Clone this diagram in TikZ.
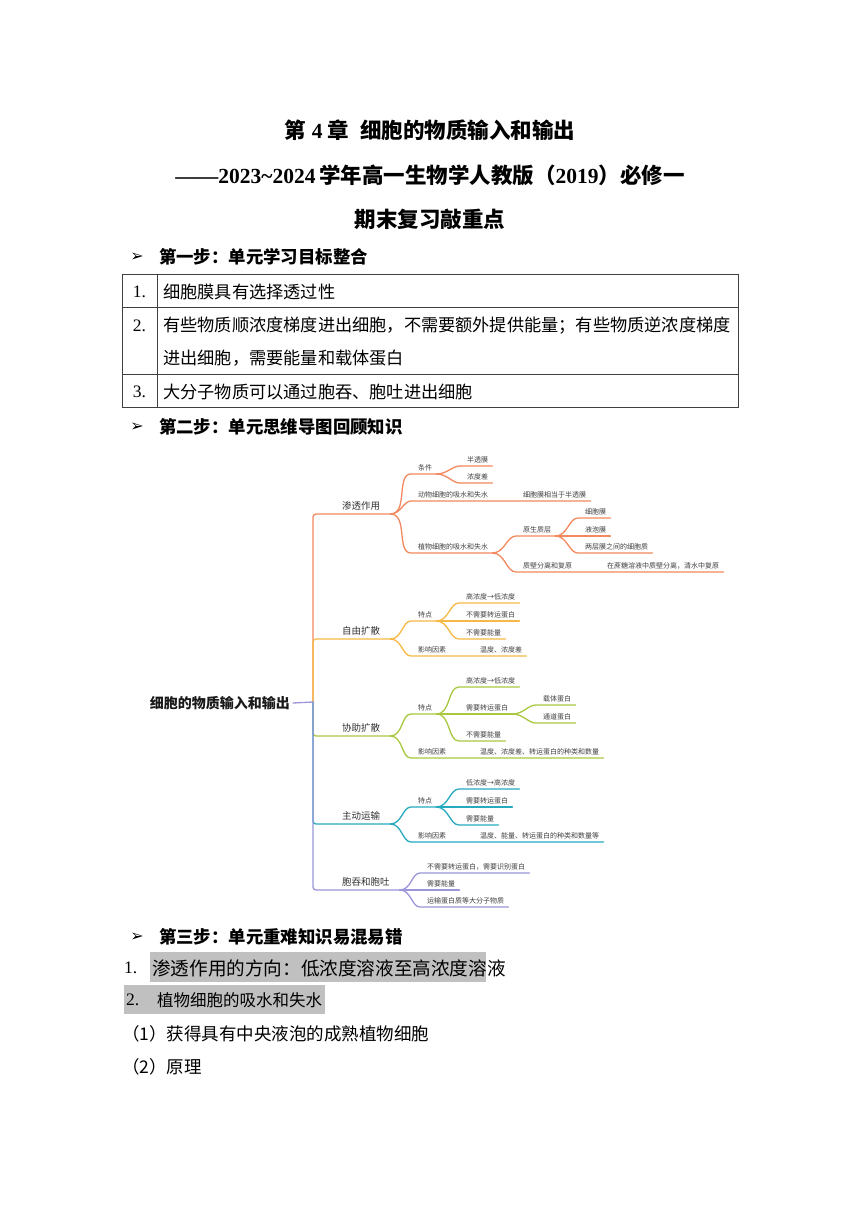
\documentclass[tikz,border=0pt]{standalone}
\usepackage{fontspec}
\setmainfont{Noto Sans CJK SC}
\newfontfamily\tnr{Liberation Serif}
\newfontfamily\symfont{DejaVu Sans}
\usepackage{xcolor}
\usepackage{tikz}
\usetikzlibrary{positioning}
\definecolor{osmo}{RGB}{244,137,95}
\definecolor{freediff}{RGB}{247,185,70}
\definecolor{facdiff}{RGB}{168,200,64}
\definecolor{active}{RGB}{38,170,192}
\definecolor{endoexo}{RGB}{155,150,218}
\definecolor{hlgray}{RGB}{192,192,192}
\newcommand{\fsz}[1]{\fontsize{#1}{#1}\selectfont}

\begin{document}
\begin{tikzpicture}[
      x=1pt, y=-1pt,
      titletext/.style={font=\fsz{21.5}\bfseries, inner sep=0pt},
      steptext/.style={font=\fsz{17.4}\bfseries, anchor=west, inner sep=0pt},
      stepmark/.style={font=\symfont\bfseries\fsz{16}, inner sep=0pt},
      celltext/.style={font=\fsz{17.2}, anchor=west, inner sep=0pt},
      cellnum/.style={font=\tnr\fsz{17.5}, inner sep=0pt},
      bodytext/.style={font=\fsz{17.5}, anchor=west, inner sep=0pt},
      rule/.style={draw=black!75, line width=0.8pt},
      rootnode/.style={font=\fsz{14}\bfseries, text=black!90, inner sep=0pt, anchor=east},
      topic/.style={font=\fsz{9.5}, text=black!80, anchor=south west, inner xsep=10pt, inner ysep=3.5pt},
      leaf/.style={font=\fsz{7}, text=black!75, anchor=south west, inner xsep=4pt, inner ysep=2.5pt},
      link/.style={line width=1.3pt, line cap=round, rounded corners=3pt}
    ]
      \fill[white] (0,0) rectangle (860,1216);
      \useasboundingbox (0,0) rectangle (860,1216);

      \node[titletext] (title) at (430,130) {第{\tnr\bfseries\ 4\ }章\enspace 细胞的物质输入和输出};
      \node[titletext] (subtitle) at (430,175) {{\tnr\bfseries ——2023\textasciitilde 2024\,}学年高一生物学人教版（{\tnr\bfseries 2019}）必修一};
      \node[titletext] (review) at (430,219) {期末复习敲重点};

      \node[stepmark] (m1) at (137,257) {➢};
      \node[steptext, right=15pt of m1] (s1) {第一步：单元学习目标整合};

      \draw[rule] (122,274) rectangle (738,407.5);
      \draw[rule] (122,307) -- (738,307);
      \draw[rule] (122,374) -- (738,374);
      \draw[rule] (157,274) -- (157,407.5);
      \node[cellnum] (n1) at (139.5,291.5) {1.};
      \node[cellnum] (n2) at (139.5,326) {2.};
      \node[cellnum] (n3) at (139.5,392) {3.};
      \node[celltext] (g1) at (163,291.5) {细胞膜具有选择透过性};
      \node[celltext] (g2a) at (163,326) {有些物质顺浓度梯度进出细胞，不需要额外提供能量；有些物质逆浓度梯度};
      \node[celltext] (g2b) at (163,358) {进出细胞，需要能量和载体蛋白};
      \node[celltext] (g3) at (163,392) {大分子物质可以通过胞吞、胞吐进出细胞};

      \node[stepmark] (m2) at (137,427) {➢};
      \node[steptext, right=15pt of m2] (s2) {第二步：单元思维导图回顾知识};

      \node[rootnode] (root) at (290,703) {细胞的物质输入和输出};
      \coordinate (hub) at (313,702);

      \node[topic] (st) at (332,514) {渗透作用};
      \node[leaf] (st-tj) at (414,474) {条件};
      \node[leaf] (st-bt) at (463,466) {半透膜};
      \node[leaf] (st-nd) at (463,483) {浓度差};
      \node[leaf] (st-dw) at (414,501) {动物细胞的吸水和失水};
      \node[leaf] (st-bm) at (519,501) {细胞膜相当于半透膜};
      \node[leaf] (st-zw) at (414,553) {植物细胞的吸水和失水};
      \node[leaf] (st-ys) at (519,536) {原生质层};
      \node[leaf] (st-xb) at (581,518) {细胞膜};
      \node[leaf] (st-yp) at (581,536) {液泡膜};
      \node[leaf] (st-lc) at (581,553) {两层膜之间的细胞质};
      \node[leaf] (st-zb) at (519,572) {质壁分离和复原};
      \node[leaf] (st-zs) at (603,572) {在蔗糖溶液中质壁分离，清水中复原};

      \node[topic] (zy) at (332,639) {自由扩散};
      \node[leaf] (zy-td) at (414,621) {特点};
      \node[leaf] (zy-gd) at (462,603) {高浓度→低浓度};
      \node[leaf] (zy-bz) at (462,621) {不需要转运蛋白};
      \node[leaf] (zy-bn) at (462,639) {不需要能量};
      \node[leaf] (zy-yx) at (414,656) {影响因素};
      \node[leaf] (zy-wn) at (476,656) {温度、浓度差};

      \node[topic] (xz) at (332,736) {协助扩散};
      \node[leaf] (xz-td) at (414,714) {特点};
      \node[leaf] (xz-gd) at (462,687) {高浓度→低浓度};
      \node[leaf] (xz-xz) at (462,714) {需要转运蛋白};
      \node[leaf] (xz-zt) at (539,705) {载体蛋白};
      \node[leaf] (xz-td2) at (539,723) {通道蛋白};
      \node[leaf] (xz-bn) at (462,741) {不需要能量};
      \node[leaf] (xz-yx) at (414,758) {影响因素};
      \node[leaf] (xz-wn) at (476,758) {温度、浓度差、转运蛋白的种类和数量};

      \node[topic] (zd) at (332,824) {主动运输};
      \node[leaf] (zd-td) at (414,807) {特点};
      \node[leaf] (zd-dg) at (462,789) {低浓度→高浓度};
      \node[leaf] (zd-xz) at (462,807) {需要转运蛋白};
      \node[leaf] (zd-xn) at (462,825) {需要能量};
      \node[leaf] (zd-yx) at (414,842) {影响因素};
      \node[leaf] (zd-wn) at (476,842) {温度、能量、转运蛋白的种类和数量等};

      \node[topic] (bt) at (332,890) {胞吞和胞吐};
      \node[leaf] (bt-bz) at (423,873) {不需要转运蛋白，需要识别蛋白};
      \node[leaf] (bt-xn) at (423,890) {需要能量};
      \node[leaf] (bt-ys) at (423,907) {运输蛋白质等大分子物质};

      \draw[link, osmo] (hub) |- (st.south east);
      \draw[link, osmo] (st.south east) to[out=0,in=180] (st-tj.south west) -- (st-tj.south east);
      \draw[link, osmo] (st-tj.south east) to[out=0,in=180] (st-bt.south west) -- (st-bt.south east);
      \draw[link, osmo] (st-tj.south east) to[out=0,in=180] (st-nd.south west) -- (st-nd.south east);
      \draw[link, osmo] (st.south east) to[out=0,in=180] (st-dw.south west) -- (st-dw.south east) -- (st-bm.south west) -- (st-bm.south east);
      \draw[link, osmo] (st.south east) to[out=0,in=180] (st-zw.south west) -- (st-zw.south east);
      \draw[link, osmo] (st-zw.south east) to[out=0,in=180] (st-ys.south west) -- (st-ys.south east);
      \draw[link, osmo] (st-ys.south east) to[out=0,in=180] (st-xb.south west) -- (st-xb.south east);
      \draw[link, osmo] (st-ys.south east) to[out=0,in=180] (st-yp.south west) -- (st-yp.south east);
      \draw[link, osmo] (st-ys.south east) to[out=0,in=180] (st-lc.south west) -- (st-lc.south east);
      \draw[link, osmo] (st-zw.south east) to[out=0,in=180] (st-zb.south west) -- (st-zb.south east) -- (st-zs.south west) -- (st-zs.south east);

      \draw[link, freediff] (hub) |- (zy.south east);
      \draw[link, freediff] (zy.south east) to[out=0,in=180] (zy-td.south west) -- (zy-td.south east);
      \draw[link, freediff] (zy-td.south east) to[out=0,in=180] (zy-gd.south west) -- (zy-gd.south east);
      \draw[link, freediff] (zy-td.south east) to[out=0,in=180] (zy-bz.south west) -- (zy-bz.south east);
      \draw[link, freediff] (zy-td.south east) to[out=0,in=180] (zy-bn.south west) -- (zy-bn.south east);
      \draw[link, freediff] (zy.south east) to[out=0,in=180] (zy-yx.south west) -- (zy-yx.south east) -- (zy-wn.south west) -- (zy-wn.south east);

      \draw[link, facdiff] (hub) |- (xz.south east);
      \draw[link, facdiff] (xz.south east) to[out=0,in=180] (xz-td.south west) -- (xz-td.south east);
      \draw[link, facdiff] (xz-td.south east) to[out=0,in=180] (xz-gd.south west) -- (xz-gd.south east);
      \draw[link, facdiff] (xz-td.south east) to[out=0,in=180] (xz-xz.south west) -- (xz-xz.south east);
      \draw[link, facdiff] (xz-xz.south east) to[out=0,in=180] (xz-zt.south west) -- (xz-zt.south east);
      \draw[link, facdiff] (xz-xz.south east) to[out=0,in=180] (xz-td2.south west) -- (xz-td2.south east);
      \draw[link, facdiff] (xz-td.south east) to[out=0,in=180] (xz-bn.south west) -- (xz-bn.south east);
      \draw[link, facdiff] (xz.south east) to[out=0,in=180] (xz-yx.south west) -- (xz-yx.south east) -- (xz-wn.south west) -- (xz-wn.south east);

      \draw[link, active] (hub) |- (zd.south east);
      \draw[link, active] (zd.south east) to[out=0,in=180] (zd-td.south west) -- (zd-td.south east);
      \draw[link, active] (zd-td.south east) to[out=0,in=180] (zd-dg.south west) -- (zd-dg.south east);
      \draw[link, active] (zd-td.south east) to[out=0,in=180] (zd-xz.south west) -- (zd-xz.south east);
      \draw[link, active] (zd-td.south east) to[out=0,in=180] (zd-xn.south west) -- (zd-xn.south east);
      \draw[link, active] (zd.south east) to[out=0,in=180] (zd-yx.south west) -- (zd-yx.south east) -- (zd-wn.south west) -- (zd-wn.south east);

      \draw[link, endoexo] (hub) |- (bt.south east);
      \draw[link, endoexo] ([xshift=3pt]root.east) -- (hub);
      \draw[link, endoexo] (bt.south east) to[out=0,in=180] (bt-bz.south west) -- (bt-bz.south east);
      \draw[link, endoexo] (bt.south east) to[out=0,in=180] (bt-xn.south west) -- (bt-xn.south east);
      \draw[link, endoexo] (bt.south east) to[out=0,in=180] (bt-ys.south west) -- (bt-ys.south east);

      \node[stepmark] (m3) at (137,937) {➢};
      \node[steptext, right=15pt of m3] (s3) {第三步：单元重难知识易混易错};

      \fill[hlgray] (150,952) rectangle (486,982);
      \fill[hlgray] (124,985) rectangle (325,1014);
      \node[cellnum, anchor=west] (p1) at (124,968) {1.};
      \node[bodytext, font=\fsz{18.6}] (l1) at (152,968) {渗透作用的方向：低浓度溶液至高浓度溶液};
      \node[cellnum, anchor=west] (p2) at (126,1000) {2.};
      \node[bodytext, font=\fsz{16.5}] (l2) at (157,1000) {植物细胞的吸水和失水};
      \node[bodytext] (l3) at (122,1034) {（1）获得具有中央液泡的成熟植物细胞};
      \node[bodytext] (l4) at (122,1067) {（2）原理};
    \end{tikzpicture}
\end{document}
